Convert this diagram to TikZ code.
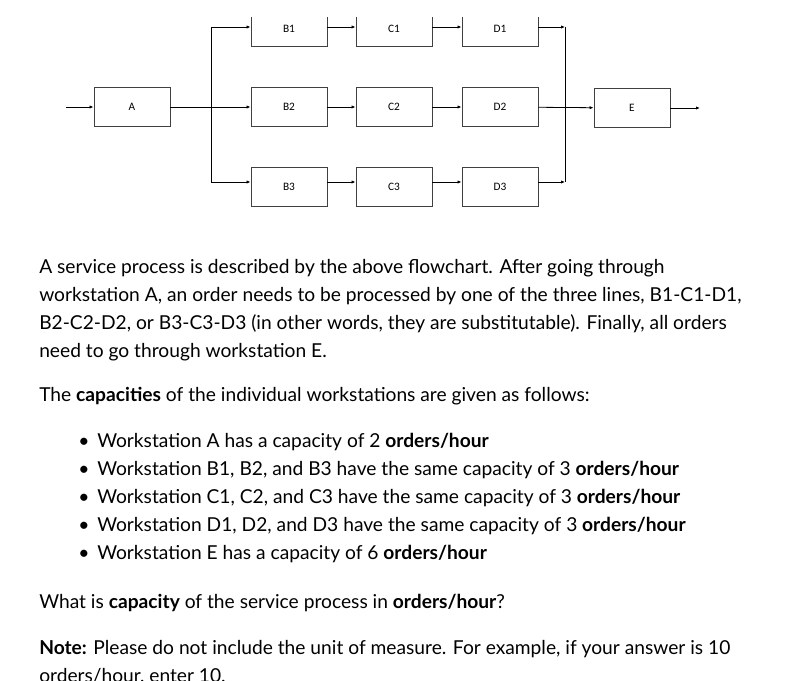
\documentclass[tikz,border=0pt]{standalone}
\usepackage{fontspec}
\setmainfont{Lato}
\newfontfamily\boxfont{Carlito}
\usetikzlibrary{arrows.meta}
\begin{document}
\begin{tikzpicture}[x=0.75pt,y=-0.75pt,
  blk/.style={draw=black!75,line width=0.7pt,minimum width=57pt,minimum height=29pt,inner sep=0pt,font=\boxfont\fontsize{8.5}{10}\selectfont},
  ar/.style={-{Latex[length=3pt,width=2.5pt]},line width=0.6pt},
  tx/.style={anchor=base west,inner sep=0pt,font=\fontsize{14.4}{17}\selectfont}]
\useasboundingbox (0,0) rectangle (793,681);
\begin{scope}
\clip (0,0) rectangle (793,681);
\node[blk] (A) at (132,107) {A};
\foreach \c/\x in {B/289,C/394,D/500}{
  \node[blk] (\c2) at (\x,107) {\c2};
  \node[blk] (\c3) at (\x,187) {\c3};
  \node[blk,draw=none] (\c1) at (\x,29) {\c1};
  \draw[black!75,line width=0.7pt] (\x-38,17) |- (\x+38,46) -- (\x+38,17);
}
\node[blk] (E) at (632,108) {E};
\coordinate (in) at (66,107);
\coordinate (out) at (700,108);
\coordinate (s1) at (211,27); \coordinate (s3) at (211,182);
\coordinate (m1) at (565,27); \coordinate (m3) at (565,182);
\draw[ar] (in) -- (A);
\draw[line width=0.6pt] (s1) -- (s3);
\draw[line width=0.6pt] (m1) -- (m3);
\draw[ar] (s1) -- (B1.west|-s1);
\draw[ar] (A) -- (B2);
\draw[ar] (s3) -- (B3.west|-s3);
\draw[ar] (B1.east|-s1) -- (C1.west|-s1);
\draw[ar] (C1.east|-s1) -- (D1.west|-s1);
\draw[ar] (D1.east|-m1) -- (m1);
\draw[ar] (B2) -- (C2); \draw[ar] (C2) -- (D2);
\draw[ar] (D2) -- (E);
\draw[ar] (B3.east|-s3) -- (C3.west|-s3);
\draw[ar] (C3.east|-s3) -- (D3.west|-s3);
\draw[ar] (D3.east|-m3) -- (m3);
\draw[ar] (E) -- (out);

\node[tx] (p1) at (39,273) {A service process is described by the above flowchart. After going through};
\node[tx] (p2) at (39,301) {workstation A, an order needs to be processed by one of the three lines, B1-C1-D1,};
\node[tx] (p3) at (39,329) {B2-C2-D2, or B3-C3-D3 (in other words, they are substitutable). Finally, all orders};
\node[tx] (p4) at (39,357) {need to go through workstation E.};
\node[tx] (q1) at (39,401) {The \textbf{capacities} of the individual workstations are given as follows:};
\foreach \y/\t in {447/{Workstation A has a capacity of 2 \textbf{orders/hour}},
  475/{Workstation B1, B2, and B3 have the same capacity of 3 \textbf{orders/hour}},
  503/{Workstation C1, C2, and C3 have the same capacity of 3 \textbf{orders/hour}},
  531/{Workstation D1, D2, and D3 have the same capacity of 3 \textbf{orders/hour}},
  559/{Workstation E has a capacity of 6 \textbf{orders/hour}}}{
  \node[tx] at (78,\y) {•};
  \node[tx] at (97,\y) {\t};
}
\node[tx] (r1) at (39,608) {What is \textbf{capacity} of the service process in \textbf{orders/hour}?};
\node[tx] (n1) at (39,654) {\textbf{Note:} Please do not include the unit of measure. For example, if your answer is 10};
\node[tx] (n2) at (39,682) {orders/hour, enter 10.};
\end{scope}
\end{tikzpicture}
\end{document}
